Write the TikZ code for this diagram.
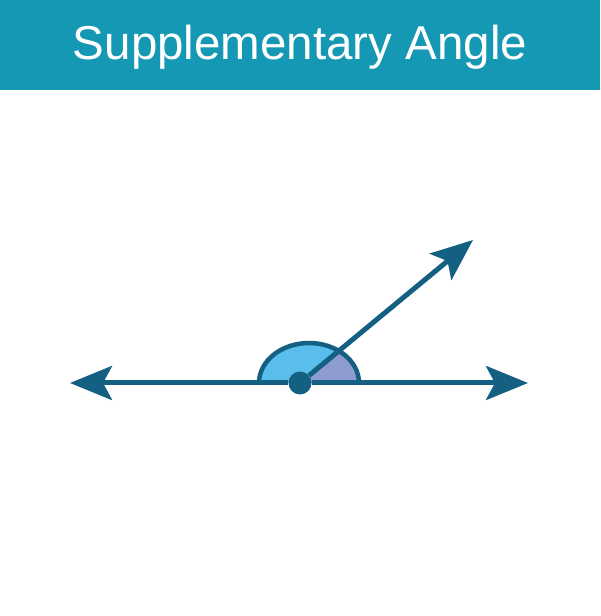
\documentclass[tikz,border=0pt]{standalone}
\usepackage{fontspec}
\setmainfont{Liberation Sans}
\usetikzlibrary{arrows.meta,calc}

\definecolor{bannerteal}{RGB}{21,152,180}
\definecolor{rayblue}{RGB}{19,96,131}
\definecolor{sidelight}{RGB}{90,190,237}
\definecolor{sidepurple}{RGB}{142,156,207}

\tikzset{
  ray/.style={draw=rayblue,line width=5pt,-{Stealth[length=42pt,width=34pt,inset=9pt]}},
  anglearc/.style={draw=rayblue,line width=4.5pt},
  vertexdot/.style={circle,fill=rayblue,minimum size=23pt,inner sep=0pt},
}

\begin{document}
\begin{tikzpicture}[x=1pt,y=1pt]
            \useasboundingbox (0,0) rectangle (600,616);
            \fill[white] (0,0) rectangle (600,616);
            \fill[bannerteal] (0,526) rectangle (600,616);
            \node[text=white,anchor=base,font=\fontsize{47.5}{50}\selectfont] (title) at (300,556) {Supplementary Angle};

            \coordinate (arcc) at (309,233);
            \coordinate (left) at (70,233);
            \coordinate (right) at (528,233);
            \coordinate (tip) at (473,376);

            % the two angles
            \fill[sidelight] ($(arcc)+(-50,0)$) arc[start angle=180,end angle=0,x radius=50,y radius=40] -- cycle;
            \begin{scope}
                \clip ($(arcc)+(-50,0)$) arc[start angle=180,end angle=0,x radius=50,y radius=40] -- cycle;
                \fill[sidepurple] (300,233) -- (tip) -- (right) -- cycle;
            \end{scope}
            \draw[anglearc] ($(arcc)+(-50,0)$) arc[start angle=180,end angle=0,x radius=50,y radius=40];

            \node[vertexdot] (vtx) at (300,233) {};
            \draw[ray] (vtx) -- (left);
            \draw[ray] (vtx) -- (right);
            \draw[ray] (vtx) -- (tip);
        \end{tikzpicture}
\end{document}
